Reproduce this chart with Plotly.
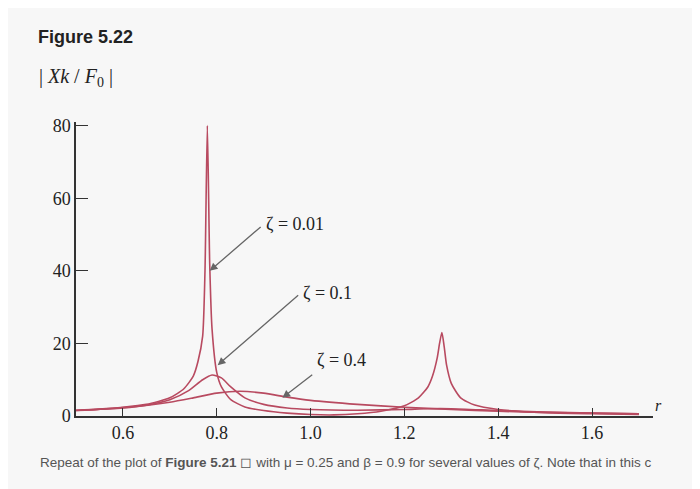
import plotly.graph_objects as go

r01 = [0.5,0.55,0.6,0.65,0.7,0.73,0.75,0.76,0.77,0.775,0.78,0.785,0.79,0.80,0.81,0.83,0.86,0.9,0.95,1.0,1.05,1.1,1.15,1.2,1.23,1.25,1.26,1.27,1.275,1.28,1.285,1.29,1.30,1.32,1.35,1.4,1.5,1.6,1.7]
v01 = [1.6,1.9,2.4,3.2,5.0,7.5,11,15,22,40,80,42,24,12,8,4.5,2.5,1.5,0.8,0.4,0.3,0.6,1.3,2.8,5,8,11,16,20,23,19,14,9,5,3,1.8,0.9,0.6,0.4]
r1 = [0.5,0.6,0.65,0.7,0.74,0.77,0.79,0.81,0.83,0.86,0.9,0.95,1.0,1.1,1.2,1.25,1.3,1.4,1.5,1.6,1.7]
v1 = [1.5,2.2,3,4.5,7,10,11.3,10.5,8,5,3.2,2.2,1.8,1.6,1.8,2,2,1.5,1.1,0.8,0.6]
r4 = [0.5,0.6,0.7,0.75,0.8,0.85,0.9,0.95,1.0,1.1,1.2,1.3,1.4,1.5,1.6,1.7]
v4 = [1.5,2.3,3.8,5,6.3,6.8,6.3,5.2,4.3,3.2,2.4,1.8,1.3,1.0,0.8,0.6]
xticks = [0.6,0.8,1.0,1.2,1.4,1.6]
yticks = [0,20,40,60,80]

col = "#b84a60"
fig = go.Figure()
for r, v in [(r01, v01), (r1, v1), (r4, v4)]:
    fig.add_trace(go.Scatter(x=r, y=v, mode="lines", line=dict(color=col, width=1.6, shape="spline", smoothing=0.6), showlegend=False))

serif = "Liberation Serif"
fig.update_layout(
    width=700, height=489, paper_bgcolor="#f7f7f7", plot_bgcolor="#f7f7f7",
    margin=dict(l=68, r=55, t=114, b=81),
    xaxis=dict(range=[0.5,1.73], tickvals=xticks, ticktext=["0.6","0.8","1.0","1.2","1.4","1.6"],
               showgrid=False, zeroline=False, showline=True, linecolor="#333", linewidth=1.5,
               ticks="inside", ticklen=8, tickcolor="#333", tickfont=dict(family=serif, size=18, color="#222")),
    yaxis=dict(range=[0,81], tickvals=yticks, showgrid=False, zeroline=False, showline=True,
               linecolor="#333", linewidth=1.5, ticks="inside", ticklen=12, tickcolor="#333",
               tickfont=dict(family=serif, size=18, color="#222")),
    font=dict(family=serif, color="#222"),
)
arrows = [
    (0.785, 40, 0.9, 52.8),
    (0.802, 14, 0.98, 34),
    (0.94, 5, 1.01, 12),
]
for x, y, ax, ay in arrows:
    fig.add_annotation(x=x, y=y, ax=ax, ay=ay, axref="x", ayref="y",
                       text=" ", showarrow=True, arrowhead=2, arrowsize=1.2, arrowwidth=1.3, arrowcolor="#666")
fig.add_annotation(x=0.9, y=52.8, text="ζ = 0.01", showarrow=False, xanchor="left", font=dict(size=18))
fig.add_annotation(x=0.98, y=34, text="ζ = 0.1", showarrow=False, xanchor="left", font=dict(size=18))
fig.add_annotation(x=1.01, y=15.5, text="ζ = 0.4", showarrow=False, xanchor="left", font=dict(size=18))
fig.add_annotation(x=1.73, y=0, text="<i>r</i>", showarrow=False, xanchor="left", yanchor="bottom", font=dict(size=16))
fig.add_annotation(xref="paper", yref="paper", x=-0.07, y=1.33, xanchor="left", text="<b>Figure 5.22</b>",
                   showarrow=False, font=dict(family="Liberation Sans", size=18, color="#222"))
fig.add_annotation(xref="paper", yref="paper", x=0.0, y=1.2, xanchor="center",
                   text="| <i>Xk</i> / <i>F</i><sub>0</sub> |", showarrow=False, font=dict(size=20))
fig.add_annotation(xref="paper", yref="paper", x=-0.065, y=-0.19, xanchor="left",
                   text="Repeat of the plot of <b>Figure 5.21</b> ◻ with μ = 0.25 and β = 0.9 for several values of ζ. Note that in this c",
                   showarrow=False, font=dict(family="Liberation Sans", size=13.5, color="#555"))
fig.write_html("out.html")
